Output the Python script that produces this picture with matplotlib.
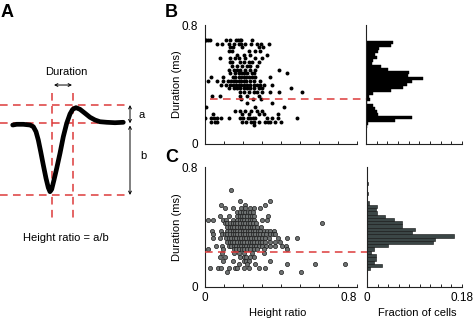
import numpy as np
import matplotlib
matplotlib.use("Agg")
import matplotlib.pyplot as plt

plt.rcParams['font.family'] = ['Liberation Sans', 'DejaVu Sans']
plt.rcParams['font.size'] = 8

# ---------------- data ----------------
# Panel A schematic waveform (time in ms, voltage normalised to trough)
wave_t = [0, 0.04, 0.106, 0.173, 0.206, 0.233, 0.256, 0.28, 0.306, 0.333, 0.356,
          0.373, 0.39, 0.413, 0.44, 0.473, 0.506, 0.54, 0.573, 0.6, 0.633, 0.673,
          0.723, 0.773, 0.823, 0.873, 0.94, 1.023, 1.106]
wave_v = [-0.024, -0.014, -0.014, -0.024, -0.047, -0.117, -0.233, -0.396, -0.582,
          -0.767, -0.898, -0.954, -0.92, -0.79, -0.628, -0.418, -0.187, 0.0, 0.13,
          0.195, 0.218, 0.195, 0.14, 0.084, 0.046, 0.022, 0.014, 0.008, 0.014]
peak_v, base_v, trough_v = 0.255, 0.0, -1.0
trough_t, peak_t = 0.39, 0.606

# Panel B scatter: duration levels and height ratios per level
b_levels = [0.70, 0.675, 0.65, 0.625, 0.60, 0.575, 0.55, 0.525, 0.50, 0.475, 0.45,
            0.425, 0.40, 0.375, 0.35, 0.325, 0.30, 0.275, 0.25, 0.225, 0.20, 0.175,
            0.15, 0.125]
b_ratio_rows = [
    [0.0, 0.005, 0.016, 0.026, 0.109, 0.132, 0.164, 0.173, 0.182, 0.189, 0.247],
    [0.062, 0.088, 0.127, 0.15, 0.177, 0.191, 0.212, 0.244, 0.274, 0.297, 0.339],
    [0.132, 0.147, 0.194, 0.283, 0.306],
    [0.124, 0.141, 0.23, 0.265, 0.291],
    [0.168, 0.203, 0.235, 0.327],
    [0.079, 0.132, 0.159, 0.177, 0.212, 0.265, 0.30],
    [0.129, 0.141, 0.182, 0.203, 0.23, 0.247, 0.283],
    [0.141, 0.168, 0.194, 0.221, 0.238, 0.274],
    [0.124, 0.15, 0.168, 0.185, 0.212, 0.238, 0.265, 0.389],
    [0.132, 0.159, 0.177, 0.194, 0.203, 0.221, 0.247, 0.256, 0.433],
    [0.03, 0.097, 0.147, 0.159, 0.177, 0.189, 0.203, 0.217, 0.23, 0.247, 0.265, 0.344],
    [0.018, 0.062, 0.097, 0.12, 0.136, 0.15, 0.164, 0.177, 0.189, 0.203, 0.217, 0.235,
     0.256, 0.291],
    [0.083, 0.111, 0.129, 0.147, 0.164, 0.177, 0.189, 0.203, 0.221, 0.238, 0.256, 0.274,
     0.291, 0.309, 0.35],
    [0.124, 0.15, 0.168, 0.185, 0.203, 0.221, 0.238, 0.256, 0.283, 0.30, 0.45],
    [0.185, 0.203, 0.23, 0.256, 0.274, 0.30, 0.344, 0.389, 0.512],
    [0.035, 0.079, 0.182, 0.221, 0.283],
    [0.189, 0.253, 0.295],
    [0.221, 0.353],
    [0.005, 0.265, 0.415],
    [0.159, 0.185, 0.212, 0.242, 0.274, 0.30],
    [0.041, 0.194, 0.23, 0.283, 0.309, 0.383],
    [0.0, 0.03, 0.048, 0.065, 0.083, 0.124, 0.185, 0.2, 0.224, 0.238, 0.253, 0.265,
     0.327, 0.353, 0.383, 0.482],
    [0.03, 0.053, 0.065, 0.194, 0.217, 0.242, 0.256, 0.283, 0.318, 0.33, 0.344, 0.371,
     0.401],
    [0.256],
]

# Panel C scatter
c_levels = [0.65, 0.575, 0.55, 0.525, 0.50, 0.475, 0.45, 0.425, 0.40, 0.375, 0.35,
            0.325, 0.30, 0.275, 0.25, 0.225, 0.20, 0.175, 0.15, 0.125, 0.10]
c_ratio_rows = [
    [0.136],
    [0.182, 0.344],
    [0.085, 0.212, 0.318],
    [0.106, 0.147, 0.189, 0.212, 0.235, 0.256, 0.291],
    [0.168, 0.185, 0.2, 0.212, 0.224, 0.238, 0.253],
    [0.079, 0.124, 0.168, 0.182, 0.194, 0.207, 0.221, 0.235, 0.247, 0.26, 0.33],
    [0.014, 0.044, 0.097, 0.111, 0.147, 0.168, 0.182, 0.194, 0.207, 0.221, 0.235,
     0.247, 0.26, 0.30, 0.327],
    [0.106, 0.118, 0.132, 0.147, 0.159, 0.171, 0.185, 0.2, 0.212, 0.224, 0.238,
     0.253, 0.27, 0.618],
    [0.115, 0.129, 0.141, 0.154, 0.168, 0.182, 0.194, 0.207, 0.221, 0.235, 0.247,
     0.26, 0.274, 0.295],
    [0.035, 0.083, 0.118, 0.132, 0.147, 0.159, 0.171, 0.185, 0.2, 0.212, 0.224,
     0.238, 0.253, 0.265, 0.277, 0.291, 0.309, 0.327, 0.344, 0.362],
    [0.044, 0.088, 0.106, 0.118, 0.132, 0.147, 0.159, 0.171, 0.185, 0.2, 0.212,
     0.224, 0.238, 0.253, 0.265, 0.277, 0.291, 0.306, 0.323, 0.341, 0.359, 0.371],
    [0.041, 0.079, 0.111, 0.124, 0.136, 0.15, 0.164, 0.177, 0.189, 0.203, 0.217,
     0.23, 0.242, 0.256, 0.27, 0.283, 0.30, 0.318, 0.336, 0.383, 0.433, 0.486],
    [0.115, 0.129, 0.141, 0.154, 0.168, 0.182, 0.194, 0.207, 0.221, 0.235, 0.247,
     0.26, 0.274, 0.288, 0.30, 0.318, 0.344, 0.371, 0.397],
    [0.058, 0.088, 0.124, 0.136, 0.15, 0.164, 0.177, 0.189, 0.203, 0.217, 0.23,
     0.242, 0.256, 0.27, 0.283, 0.30, 0.323, 0.344, 0.366, 0.406, 0.424],
    [0.018, 0.097, 0.15, 0.164, 0.177, 0.194, 0.207, 0.221, 0.238, 0.256, 0.274,
     0.309, 0.433],
    [0.088, 0.15, 0.177, 0.203, 0.247, 0.309],
    [0.079, 0.106, 0.185, 0.203, 0.217, 0.235, 0.256],
    [0.097, 0.147, 0.203, 0.217, 0.23, 0.344],
    [0.177, 0.221, 0.265, 0.433, 0.577, 0.736],
    [0.026, 0.071, 0.083, 0.124, 0.159, 0.171, 0.203, 0.23, 0.283, 0.318],
    [0.118, 0.401, 0.507],
]

# Histograms (bin centre duration, fraction of cells)
b_hist_dur = [0.68, 0.66, 0.64, 0.62, 0.60, 0.58, 0.56, 0.54, 0.52, 0.50, 0.48, 0.46,
              0.44, 0.42, 0.40, 0.38, 0.36, 0.34, 0.32, 0.30, 0.28, 0.26, 0.24, 0.22,
              0.20, 0.18, 0.16, 0.14, 0.12]
b_hist_frac = [0.051, 0.046, 0.024, 0.022, 0.017, 0.02, 0.014, 0.012, 0.029, 0.042,
               0.081, 0.079, 0.107, 0.086, 0.076, 0.07, 0.046, 0.014, 0.006, 0.007,
               0.001, 0.014, 0.017, 0.02, 0.022, 0.086, 0.055, 0.003, 0.001]
c_hist_dur = [0.692, 0.626, 0.56, 0.538, 0.516, 0.494, 0.472, 0.45, 0.428, 0.406,
              0.384, 0.362, 0.34, 0.318, 0.296, 0.274, 0.252, 0.23, 0.208, 0.186,
              0.164, 0.142, 0.12]
c_hist_frac = [0.001, 0.001, 0.003, 0.0185, 0.0175, 0.018, 0.033, 0.05, 0.066, 0.067,
               0.0915, 0.085, 0.165, 0.129, 0.125, 0.0395, 0.012, 0.008, 0.0166,
               0.016, 0.012, 0.028, 0.006]

b_threshold = 0.30
c_threshold = 0.23
scatter_xticks = [0, 0.1, 0.2, 0.3, 0.4, 0.5, 0.6, 0.7, 0.8]
hist_xticks = [0, 0.02, 0.04, 0.06, 0.08, 0.10, 0.12, 0.14, 0.16, 0.18]

# ---------------- figure ----------------
W, H = 474, 323
fig = plt.figure(figsize=(W / 100, H / 100), dpi=100)
RED = '#dd3a3a'
DASH = (0, (5, 3.5))


def box(x0, y0, x1, y1):
    return [x0 / W, 1 - y1 / H, (x1 - x0) / W, (y1 - y0) / H]


def flatten(levels, rows):
    xs, ys = [], []
    for lv, row in zip(levels, rows):
        xs.extend(row)
        ys.extend([lv] * len(row))
    return xs, ys


# ---- Panel A ----
axA = fig.add_axes(box(0, 40, 160, 260))
axA.set_xlim(-0.127, 1.473)
axA.set_ylim(-1.907, 1.162)
axA.axis('off')
for yv in (peak_v, base_v, trough_v):
    axA.plot([-0.127, 1.143], [yv, yv], color=RED, lw=1.1, ls=DASH)
for xv in (trough_t, peak_t):
    axA.plot([xv, xv], [0.42, -1.35], color=RED, lw=1.1, ls=DASH)
axA.plot(wave_t, wave_v, color='black', lw=3.4, solid_capstyle='round',
         solid_joinstyle='round')
arr = dict(arrowstyle='<->', lw=0.7, color='black', mutation_scale=5,
           shrinkA=0, shrinkB=0)
axA.annotate('', xy=(1.173, peak_v), xytext=(1.173, base_v), arrowprops=arr)
axA.annotate('', xy=(1.173, -0.03), xytext=(1.173, trough_v), arrowprops=arr)
axA.annotate('', xy=(0.413, 0.534), xytext=(0.593, 0.534), arrowprops=arr)
axA.text(1.293, 0.116, 'a', ha='center', va='center', fontsize=8)
axA.text(1.303, -0.456, 'b', ha='center', va='center', fontsize=8)
axA.text(0.533, 0.715, 'Duration', ha='center', va='center', fontsize=8)
axA.text(0.533, -1.6, 'Height ratio = a/b', ha='center', va='center', fontsize=8)


def style_axes(ax, xticks, xlabels, show_y_labels):
    for s in ('top', 'right'):
        ax.spines[s].set_visible(False)
    for s in ('left', 'bottom'):
        ax.spines[s].set_linewidth(0.8)
        ax.spines[s].set_color('#222222')
    ax.set_xticks(xticks)
    ax.set_xticklabels(xlabels)
    ax.tick_params(axis='x', direction='in', length=2.2, width=0.6, pad=4,
                   labelsize=8.5)
    ax.set_ylim(0, 0.8)
    if show_y_labels:
        ax.set_yticks([0, 0.8])
        ax.set_yticklabels(['0', '0.8'])
        ax.tick_params(axis='y', length=0, pad=5, labelsize=8.5)
    else:
        ax.set_yticks([])


empty_s = [''] * len(scatter_xticks)
empty_h = [''] * len(hist_xticks)
lab_s = ['0'] + [''] * (len(scatter_xticks) - 2) + ['0.8']
lab_h = ['0'] + [''] * (len(hist_xticks) - 2) + ['0.18']

# ---- Panel B ----
axB = fig.add_axes(box(205, 25, 357, 144))
bx, by = flatten(b_levels, b_ratio_rows)
axB.scatter(bx, by, s=8, color='black', linewidths=0, zorder=3)
axB.set_xlim(0, 0.8)
style_axes(axB, scatter_xticks, empty_s, True)
axB.set_ylabel('Duration (ms)', fontsize=8)
axB.yaxis.set_label_coords((182 - 205) / 152, 0.5)

axBh = fig.add_axes(box(366, 25, 462, 144))
axBh.barh(b_hist_dur, b_hist_frac, height=0.02, color='black', edgecolor='black',
          linewidth=0.3)
axBh.set_xlim(0, 0.18)
style_axes(axBh, hist_xticks, empty_h, False)

# ---- Panel C ----
axC = fig.add_axes(box(205, 167.3, 357, 286.7))
cx, cy = flatten(c_levels, c_ratio_rows)
axC.scatter(cx, cy, s=9, color='#6f7373', edgecolors='#1c1c1c', linewidths=0.5,
            zorder=3)
axC.set_xlim(0, 0.8)
style_axes(axC, scatter_xticks, lab_s, True)
axC.get_xticklabels()[-1].set_horizontalalignment('right')
axC.set_ylabel('Duration (ms)', fontsize=8)
axC.yaxis.set_label_coords((182 - 205) / 152, 0.5)
axC.set_xlabel('Height ratio', fontsize=8)
axC.xaxis.set_label_coords((278 - 205) / 152, -(308 - 286.7) / 119.4)

axCh = fig.add_axes(box(367.3, 167.3, 461.7, 286.7))
axCh.barh(c_hist_dur, c_hist_frac, height=0.022, color='#3b4646',
          edgecolor='#111111', linewidth=0.4)
axCh.set_xlim(0, 0.18)
style_axes(axCh, hist_xticks, lab_h, False)
axCh.set_xlabel('Fraction of cells', fontsize=8)
axCh.xaxis.set_label_coords((417 - 367.3) / 94.4, -(308 - 286.7) / 119.4)

# thresholds spanning scatter and histogram
span_b = (462 - 205) / (357 - 205)
axB.axhline(b_threshold, xmin=0.03, xmax=span_b, color=RED, lw=1.1, ls=DASH,
            clip_on=False, zorder=4)
axC.axhline(c_threshold, xmin=0.0, xmax=span_b, color=RED, lw=1.1, ls=DASH,
            clip_on=False, zorder=4)

# panel letters
fig.text(0.5 / W, 1 - 17 / H, 'A', fontsize=13, fontweight='bold', ha='left',
         va='baseline')
fig.text(165 / W, 1 - 17 / H, 'B', fontsize=13, fontweight='bold', ha='left',
         va='baseline')
fig.text(165 / W, 1 - 162 / H, 'C', fontsize=13, fontweight='bold', ha='left',
         va='baseline')

fig.savefig('out.png', dpi=100)
